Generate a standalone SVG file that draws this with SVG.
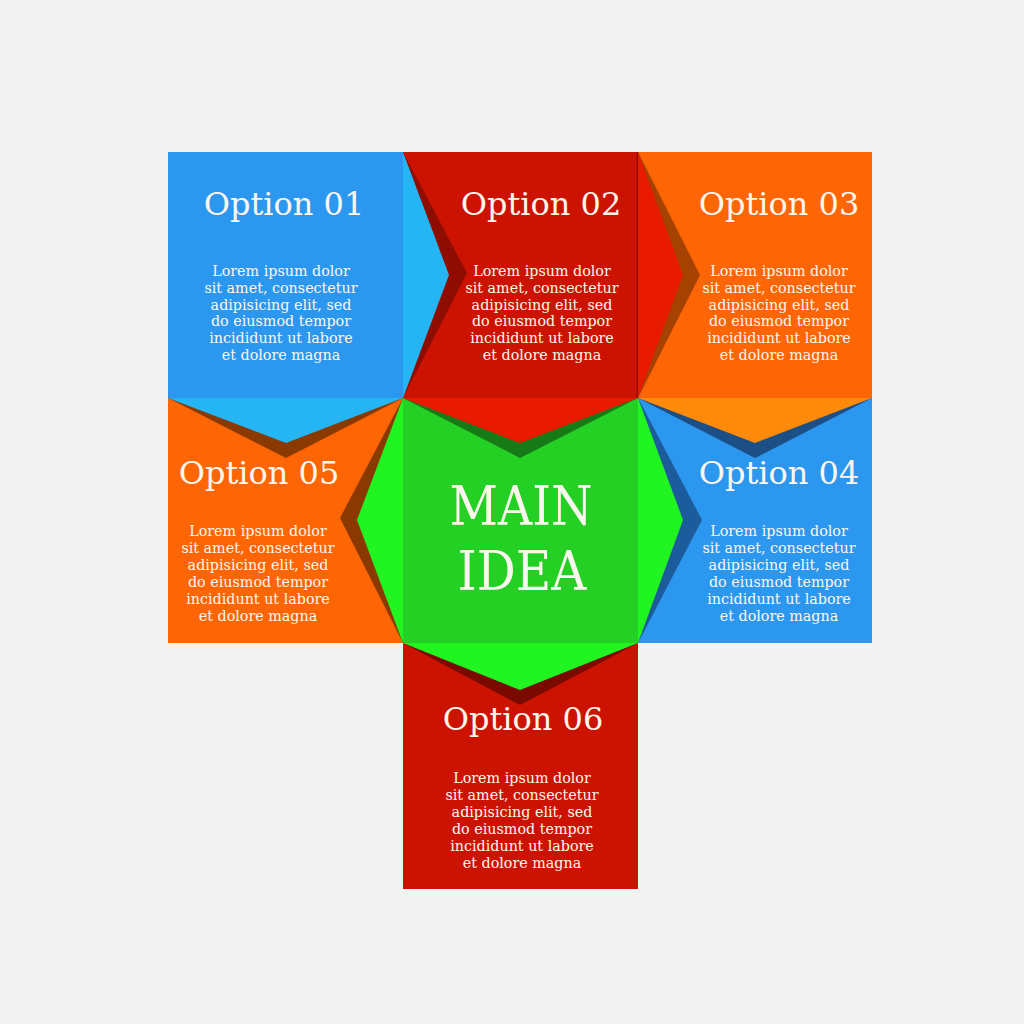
<svg xmlns="http://www.w3.org/2000/svg" width="1024" height="1024" viewBox="0 0 1024 1024">
<style>
.t{font-family:"DejaVu Serif","Liberation Serif",serif;fill:#fdf6ee;text-anchor:middle}
.h{font-size:32px}
.b{font-size:14.3px}
.m{font-size:54px}
</style>
<rect width="1024" height="1024" fill="#f3f3f3"/>
<g id="squares">
<rect id="sq01" x="168" y="152" width="235" height="246" fill="#2c97ef"/>
<rect id="sq02" x="403" y="152" width="235" height="246" fill="#cc1200"/>
<rect id="sq03" x="638" y="152" width="234" height="246" fill="#fe6505"/>
<rect id="sq05" x="168" y="398" width="235" height="245" fill="#fe6505"/>
<rect id="sq04" x="638" y="398" width="234" height="245" fill="#2c97ef"/>
<rect id="sq06" x="403" y="643" width="235" height="246" fill="#cc1200"/>
</g>
<g id="connectors">
<polygon points="403,152 467,273 403,398" fill="#8e0d00"/>
<polygon points="638,152 700,275 638,398" fill="#a64200"/>
<polygon points="168,398 286,458 403,398" fill="#8a3a00"/>
<polygon points="403,398 520,458 638,398" fill="#167a16"/>
<polygon points="638,398 755,458 872,398" fill="#1b4f86"/>
<polygon points="403,398 340,518 403,643" fill="#8a3a00"/>
<polygon points="638,398 702,520 638,643" fill="#1d5c9c"/>
<polygon points="403,643 520,705 638,643" fill="#7a0900"/>
<line x1="637.5" y1="152" x2="637.5" y2="398" stroke="#8e0d00" stroke-width="1.5"/>
<polygon points="403,152 449,275 403,398" fill="#25b5f5"/>
<polygon points="638,152 683,275 638,398" fill="#e81a00"/>
<polygon points="168,398 286,443 403,398" fill="#25b5f5"/>
<polygon points="638,398 755,443 872,398" fill="#ff8a0a"/>
</g>
<g id="main">
<polygon points="403,398 638,398 683,520 638,643 520,690 403,643 357,520" fill="#20f522"/>
<rect x="403" y="398" width="235" height="245" fill="#24d024"/>
<polygon points="403,398 520,458 638,398" fill="#167a16"/>
<polygon points="403,398 520,443 638,398" fill="#e81a00"/>
<text class="t m" x="521" y="525" textLength="143" lengthAdjust="spacingAndGlyphs">MAIN</text>
<text class="t m" x="522" y="590" textLength="129" lengthAdjust="spacingAndGlyphs">IDEA</text>
</g>
<g id="option01">
<text class="t h" x="284" y="215">Option 01</text>
<text class="t b" x="281" y="276">Lorem ipsum dolor<tspan x="281" dy="16.8">sit amet, consectetur</tspan><tspan x="281" dy="16.8">adipisicing elit, sed</tspan><tspan x="281" dy="16.8">do eiusmod tempor</tspan><tspan x="281" dy="16.8">incididunt ut labore</tspan><tspan x="281" dy="16.8">et dolore magna</tspan></text>
</g>
<g id="option02">
<text class="t h" x="541" y="215">Option 02</text>
<text class="t b" x="542" y="276">Lorem ipsum dolor<tspan x="542" dy="16.8">sit amet, consectetur</tspan><tspan x="542" dy="16.8">adipisicing elit, sed</tspan><tspan x="542" dy="16.8">do eiusmod tempor</tspan><tspan x="542" dy="16.8">incididunt ut labore</tspan><tspan x="542" dy="16.8">et dolore magna</tspan></text>
</g>
<g id="option03">
<text class="t h" x="779" y="215">Option 03</text>
<text class="t b" x="779" y="276">Lorem ipsum dolor<tspan x="779" dy="16.8">sit amet, consectetur</tspan><tspan x="779" dy="16.8">adipisicing elit, sed</tspan><tspan x="779" dy="16.8">do eiusmod tempor</tspan><tspan x="779" dy="16.8">incididunt ut labore</tspan><tspan x="779" dy="16.8">et dolore magna</tspan></text>
</g>
<g id="option05">
<text class="t h" x="259" y="484">Option 05</text>
<text class="t b" x="258" y="536">Lorem ipsum dolor<tspan x="258" dy="17">sit amet, consectetur</tspan><tspan x="258" dy="17">adipisicing elit, sed</tspan><tspan x="258" dy="17">do eiusmod tempor</tspan><tspan x="258" dy="17">incididunt ut labore</tspan><tspan x="258" dy="17">et dolore magna</tspan></text>
</g>
<g id="option04">
<text class="t h" x="779" y="484">Option 04</text>
<text class="t b" x="779" y="536">Lorem ipsum dolor<tspan x="779" dy="17">sit amet, consectetur</tspan><tspan x="779" dy="17">adipisicing elit, sed</tspan><tspan x="779" dy="17">do eiusmod tempor</tspan><tspan x="779" dy="17">incididunt ut labore</tspan><tspan x="779" dy="17">et dolore magna</tspan></text>
</g>
<g id="option06">
<text class="t h" x="523" y="730">Option 06</text>
<text class="t b" x="522" y="783">Lorem ipsum dolor<tspan x="522" dy="17">sit amet, consectetur</tspan><tspan x="522" dy="17">adipisicing elit, sed</tspan><tspan x="522" dy="17">do eiusmod tempor</tspan><tspan x="522" dy="17">incididunt ut labore</tspan><tspan x="522" dy="17">et dolore magna</tspan></text>
</g>
</svg>
